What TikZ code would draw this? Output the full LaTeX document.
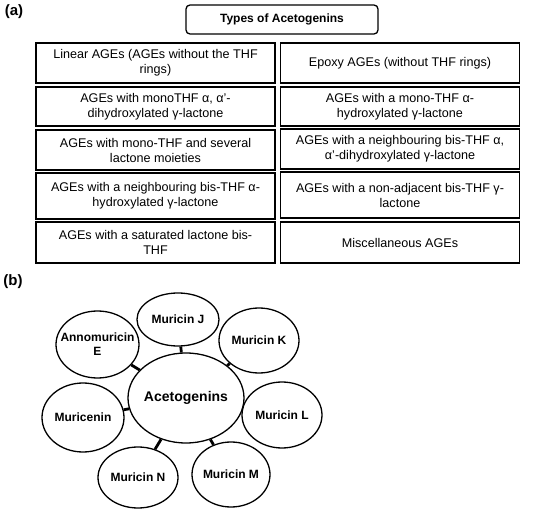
\documentclass[tikz,border=0pt]{standalone}
\usepackage{fontspec}
\setmainfont{Liberation Sans}
\usetikzlibrary{shapes.geometric}
\begin{document}
\begin{tikzpicture}[x=1pt,y=-1pt,
  cat/.style={draw,line width=1.6pt,minimum width=239pt,minimum height=40pt,align=center,
    font=\fontsize{12.6}{15}\selectfont,inner sep=0pt},
  bub/.style={draw,ellipse,line width=1.3pt,inner sep=0pt},
  btxt/.style={align=center,font=\fontsize{12}{14}\selectfont\bfseries,inner sep=0pt},
  link/.style={line width=2.8pt},
  lab/.style={font=\fontsize{15}{18}\selectfont\bfseries}
]
\useasboundingbox (0,0) rectangle (550,514);
\node[lab] (la) at (14,11.5) {(a)};
\node[lab] (lb) at (13,282) {(b)};
\node[draw,rounded corners=4pt,line width=1.3pt,minimum width=192pt,minimum height=29pt,
  font=\fontsize{12}{15}\selectfont\bfseries] (title) at (282,19.5) {Types of Acetogenins};
\node[cat] (l1) at (155.5,63) {Linear AGEs (AGEs without the THF\\rings)};
\node[cat] (r1) at (400,63) {Epoxy AGEs (without THF rings)};
\node[cat,minimum height=39pt] (l2) at (155.5,106.5) {AGEs with monoTHF α, α’-\\dihydroxylated γ-lactone};
\node[cat,minimum height=39pt] (r2) at (400,106.5) {AGEs with a mono-THF α-\\hydroxylated γ-lactone};
\node[cat] (l3) at (155.5,150) {AGEs with mono-THF and several\\lactone moieties};
\node[cat] (r3) at (400,149) {AGEs with a neighbouring bis-THF α,\\α’-dihydroxylated γ-lactone};
\node[cat,minimum height=46pt] (l4) at (155.5,196) {AGEs with a neighbouring bis-THF α-\\hydroxylated γ-lactone};
\node[cat,minimum height=46pt] (r4) at (400,195) {AGEs with a non-adjacent bis-THF γ-\\lactone};
\node[cat,minimum height=41pt] (l5) at (155.5,242.5) {AGEs with a saturated lactone bis-\\THF};
\node[cat,minimum height=41pt] (r5) at (400,242.5) {Miscellaneous AGEs};

\node[bub,minimum width=116pt,minimum height=90pt,
  label={[btxt,font=\fontsize{14}{16}\selectfont\bfseries]center:Acetogenins}] (ac) at (186,398) {};
\node[bub,minimum width=82pt,minimum height=53pt,label={[btxt]center:Muricin J}] (mj) at (178,319.5) {};
\node[bub,minimum width=83pt,minimum height=67pt,label={[btxt]center:Annomuricin\\E}] (ae) at (97.5,344.5) {};
\node[bub,minimum width=80pt,minimum height=65pt,label={[btxt]center:Muricin K}] (mk) at (259,340.5) {};
\node[bub,minimum width=82pt,minimum height=69pt,label={[btxt]center:Muricenin}] (mu) at (83,417.5) {};
\node[bub,minimum width=80pt,minimum height=66pt,label={[btxt]center:Muricin L}] (ml) at (282,415) {};
\node[bub,minimum width=80pt,minimum height=61pt,label={[btxt]center:Muricin N}] (mn) at (138,477.5) {};
\node[bub,minimum width=78pt,minimum height=65pt,label={[btxt]center:Muricin M}] (mm) at (231,474.5) {};
\foreach \n in {mj,ae,mk,mu,ml,mn,mm} \draw[link] (ac) -- (\n);
\end{tikzpicture}
\end{document}
